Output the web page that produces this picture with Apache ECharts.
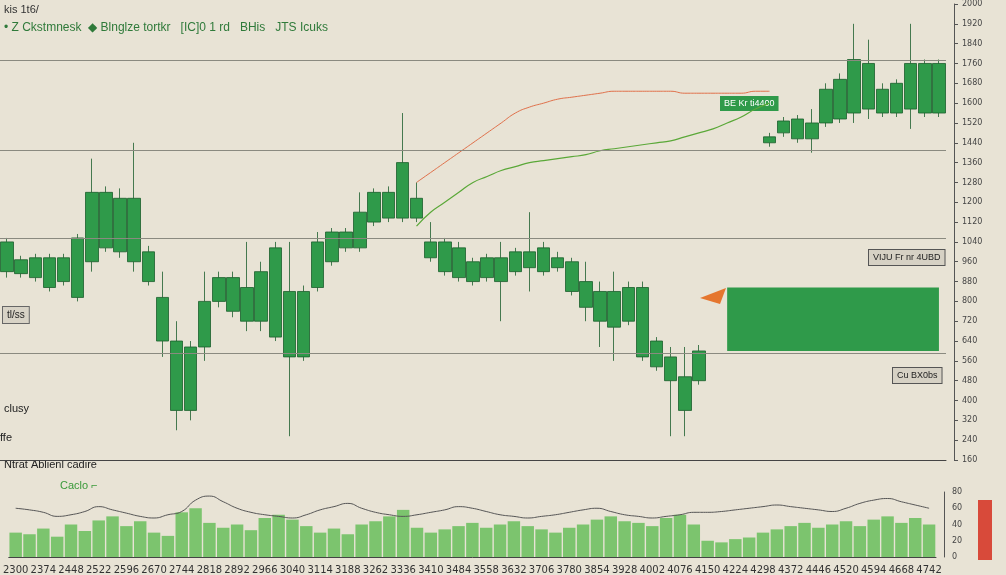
<!DOCTYPE html>
<html><head><meta charset="utf-8">
<script src="https://cdn.jsdelivr.net/npm/echarts@6/dist/echarts.min.js"></script>
<style>html,body{margin:0;background:#e8e3d5}#c{width:1006px;height:575px}</style>
</head><body><div id="c"></div>
<script>
// candles: [open, close, low, high], '-' = gap
var candles = [
  [115,130,112,132],[114,121,112,123],[112,122,110,124],[107,122,105,124],[110,122,108,124],
  [102,132,100,134],[120,155,115,172],[127,155,125,158],[125,152,122,157],[120,152,115,180],
  [110,125,108,128],[80,102,72,115],[45,80,35,90],[45,77,40,80],[77,100,70,115],
  [100,112,97,115],[95,112,92,115],[90,107,85,130],[90,115,85,120],[82,127,80,130],
  [72,105,32,130],[72,105,70,108],[107,130,105,135],[120,135,118,137],[127,135,125,137],
  [127,145,125,155],[140,155,138,157],[142,155,140,158],[142,170,140,195],[142,152,140,160],
  [122,130,120,140],[115,130,113,132],[112,127,110,130],[110,120,108,122],[112,122,110,124],
  [110,122,90,130],[115,125,113,127],[117,125,105,145],[115,127,113,130],[117,122,115,125],
  [105,120,103,122],[97,110,90,120],[90,105,77,110],[87,105,70,115],[90,107,88,110],
  [72,107,70,110],[67,80,65,82],[60,72,32,77],[45,62,32,77],[60,75,58,78],
  '-','-','-','-',
  [180,183,178,185],[185,191,183,193],[182,192,180,194],[182,190,175,197],[190,207,188,210],
  [192,212,190,215],[195,222,190,240],[197,220,192,232],[195,207,193,210],[195,210,193,212],
  [197,220,187,240],[195,220,193,222],[195,220,193,222]
];
var maGreen = ['-','-','-','-','-','-','-','-','-','-','-','-','-','-','-','-','-','-','-','-','-','-','-','-','-','-','-','-','-',
  138,145,150,155,160,163,166,168,170,171,172,173,174,176,177,178,179,180,181,183,185,187,190,193,197,200,'-','-','-','-','-','-','-','-','-','-','-','-','-'];
var maRed = ['-','-','-','-','-','-','-','-','-','-','-','-','-','-','-','-','-','-','-','-','-','-','-','-','-','-','-','-','-',
  160,165,170,175,180,185,190,195,198,200,202,203,204,205,206,206,206,206,206,205,205,205,205,205,206,206,'-','-','-','-','-','-','-','-','-','-','-','-','-'];
var volume = [30,28,35,25,40,32,45,50,38,44,30,26,55,60,42,36,40,33,48,52,46,38,30,35,28,40,44,50,58,36,
  30,34,38,42,36,40,44,38,34,30,36,40,46,50,44,42,38,48,52,40,20,18,22,24,30,34,38,42,36,40,44,38,46,50,42,48,40];
var volLine = [60,58,55,50,52,56,62,58,54,50,48,52,56,70,75,68,60,55,52,50,48,52,58,62,66,60,55,52,50,52,
  55,58,62,60,56,52,50,48,50,52,55,58,60,56,52,50,48,50,52,55,55,56,58,60,62,64,62,60,58,56,60,66,70,72,68,64,60];
var levels = [221.5, 176, 132, 74];
var cats = candles.map(function(d, i){ return 'D' + i; });
var green = '#2f9a4a';

var chart = echarts.init(document.getElementById('c'));
chart.setOption({
  backgroundColor: '#e8e3d5',
  animation: false,
  textStyle: {fontFamily: 'DejaVu Sans'},
  grid: [
    {left: 0, right: 60, top: 0, height: 460},
    {left: 0, right: 70, top: 492, height: 68}
  ],
  xAxis: [
    {type: 'category', data: cats, gridIndex: 0, boundaryGap: true,
     axisLine: {lineStyle: {color: '#444'}}, axisTick: {show: false}, axisLabel: {show: false}},
    {type: 'category', data: cats, gridIndex: 1, boundaryGap: true,
     axisLine: {lineStyle: {color: '#444'}}, axisTick: {show: false},
     axisLabel: {color: '#333', fontSize: 10, interval: 1, formatter: function(v, i){ return (2300 + i * 37) % 9000; }}}
  ],
  yAxis: [
    {type: 'value', gridIndex: 0, position: 'right', min: 20, max: 250, interval: 10, offset: 8,
     splitLine: {show: false}, axisLine: {show: true, lineStyle: {color: '#555'}},
     axisTick: {show: true, length: 4, lineStyle: {color: '#555'}},
     axisLabel: {color: '#444', fontSize: 8, formatter: function(v){ return (v * 8).toFixed(0); }}},
    {type: 'value', gridIndex: 1, position: 'right', min: 0, max: 80, offset: 8,
     splitLine: {show: false}, axisLine: {show: true, lineStyle: {color: '#555'}},
     axisLabel: {color: '#444', fontSize: 8}}
  ],
  series: [
    {type: 'candlestick', data: candles, barWidth: 13,
     itemStyle: {color: green, color0: green, borderColor: '#1b5e2c', borderColor0: '#1b5e2c', borderWidth: 0.8},
     markLine: {symbol: 'none', silent: true, label: {show: false},
       lineStyle: {color: '#8a8a80', type: 'solid', width: 1},
       data: levels.map(function(v){ return {yAxis: v}; })},
     markArea: {silent: true, itemStyle: {color: '#2f9a4a'},
       data: [[{xAxis: 'D51', yAxis: 75}, {xAxis: 'D66', yAxis: 107}]]}},
    {type: 'line', data: maGreen, smooth: true, symbol: 'none', lineStyle: {color: '#5aa838', width: 1.2}},
    {type: 'line', data: maRed, smooth: true, symbol: 'none', lineStyle: {color: '#e0704a', width: 1}},
    {type: 'bar', xAxisIndex: 1, yAxisIndex: 1, data: volume, barWidth: '90%',
     itemStyle: {color: '#7cc46e'}},
    {type: 'line', xAxisIndex: 1, yAxisIndex: 1, data: volLine, smooth: true, symbol: 'none',
     lineStyle: {color: '#555', width: 1}}
  ],
  graphic: [
    {type: 'text', left: 4, top: 4, style: {text: 'kis 1t6/', fontSize: 11, fill: '#333'}},
    {type: 'text', left: 4, top: 22, style: {text: '• Z Ckstmnesk  ◆ Blnglze tortkr   [IC]0 1 rd   BHis   JTS Icuks', fontSize: 12, fill: '#2f7a3a'}},
    {type: 'text', left: 2, top: 306, style: {text: 'tl/ss', fontSize: 10, fill: '#222', backgroundColor: '#d8d3c6', borderColor: '#666', borderWidth: 1, padding: [3, 4]}},
    {type: 'text', left: 4, top: 403, style: {text: 'clusy', fontSize: 11, fill: '#222'}},
    {type: 'text', left: 0, top: 432, style: {text: 'ffe', fontSize: 11, fill: '#222'}},
    {type: 'text', left: 4, top: 459, style: {text: 'Ntrat Ablienl cadire', fontSize: 11, fill: '#222'}},
    {type: 'text', left: 60, top: 480, style: {text: 'Caclo ⌐', fontSize: 11, fill: '#3a9a3a'}},
    {type: 'text', left: 720, top: 96, style: {text: 'BE Kr ti4400', fontSize: 9, fill: '#fff', backgroundColor: green, padding: [3, 4]}},
    {type: 'text', left: 868, top: 249, style: {text: 'VIJU Fr nr 4UBD', fontSize: 9, fill: '#222', backgroundColor: '#d6d1c4', borderColor: '#555', borderWidth: 1, padding: [3, 4]}},
    {type: 'text', left: 892, top: 367, style: {text: 'Cu BX0bs', fontSize: 9, fill: '#222', backgroundColor: '#d6d1c4', borderColor: '#555', borderWidth: 1, padding: [3, 4]}},
    {type: 'polygon', shape: {points: [[700, 298], [726, 288], [720, 304]]}, style: {fill: '#e5762e'}},
    {type: 'rect', left: 978, top: 500, shape: {width: 14, height: 60}, style: {fill: '#d84a3a'}}
  ]
});
</script></body></html>
